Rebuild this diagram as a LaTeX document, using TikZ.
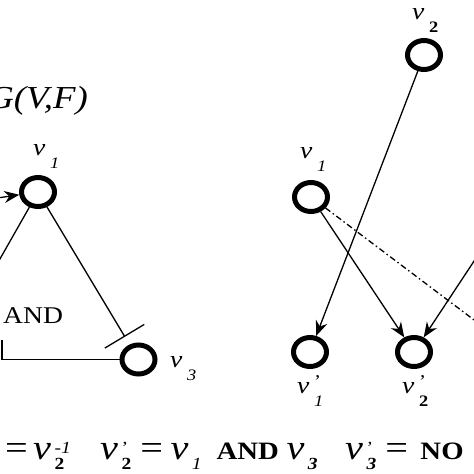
\documentclass[tikz,border=0pt]{standalone}
\usepackage{graphicx}
\usepackage{fontspec}
\setmainfont{Liberation Serif}
\usetikzlibrary{arrows.meta}
\usetikzlibrary{shapes.geometric}

% the figure is a little wider than tall, text too
\newcommand{\wide}[1]{\scalebox{1.15}[1]{#1}}
% v with a small raised and a lowered index: labels and rules
\newcommand{\gvlab}[2]{\textit{v}\hspace{4pt}\rlap{\raisebox{6pt}{\fontsize{18}{18}\selectfont #1}}\raisebox{-13pt}{\fontsize{16}{16}\selectfont #2}}
\newcommand{\gvrule}[2]{\textit{v}\hspace{3pt}\rlap{\raisebox{6pt}{\fontsize{17}{17}\selectfont #1}}\raisebox{-10pt}{\fontsize{17}{17}\selectfont #2}}

\begin{document}
\begin{tikzpicture}[x=1pt, y=-1pt,
    gene/.style={ellipse, draw=black, line width=5pt, minimum width=33pt, minimum height=29pt, inner sep=0pt},
    lab/.style={font=\fontsize{24}{26}\selectfont, inner sep=0pt, anchor=base west},
    rule/.style={font=\fontsize{35}{37}\selectfont, inner sep=0pt, anchor=base west},
    edge/.style={line width=1.3pt},
    act/.style={edge, -{Stealth[length=15pt, width=12pt]}},
    inh/.style={edge, -{Bar[width=46pt, line width=1.3pt]}, shorten >=9pt},
    dashdot/.style={edge, dash pattern=on 6pt off 3pt on 1.5pt off 3pt}]
    \useasboundingbox (0,0) rectangle (474,474);
    \clip (0,0) rectangle (474,474);

    % left graph
    \node[lab, anchor=base east, font=\fontsize{32}{34}\selectfont\itshape] (title) at (88,108) {\wide{G(V,F)}};
    \node[gene] (v1a) at (38,192) {};
    \node[gene] (v3a) at (138.5,359.5) {};
    \node[lab] (v1alab) at (33,155) {\wide{\gvlab{}{\textit{1}}}};
    \node[lab] (v3alab) at (170,367) {\wide{\gvlab{}{\textit{3}}}};
    \node[lab] (andlab) at (3,323) {\wide{AND}};
    \coordinate (inA) at (-30,202);
    \coordinate (outA) at (-12,280);
    \coordinate (barA) at (2,340);
    \draw[act] (inA) -- (v1a);
    \draw[edge] (v1a) -- (outA);
    \draw[inh] (v1a) -- (v3a);
    \draw[edge] (barA) |- (v3a);

    % right graph
    \node[gene] (v1b) at (311,197) {};
    \node[gene] (v2b) at (424,55) {};
    \node[gene] (v1p) at (310,352) {};
    \node[gene] (v2p) at (414,352) {};
    \node[lab] (v1blab) at (300,158) {\wide{\gvlab{}{\textit{1}}}};
    \node[lab] (v2blab) at (412,19) {\wide{\gvlab{}{\textbf{2}}}};
    \node[lab] (v1plab) at (297,393) {\wide{\gvlab{'}{\textit{1}}}};
    \node[lab] (v2plab) at (402,393) {\wide{\gvlab{'}{\textbf{2}}}};
    \coordinate (outB) at (490,332);
    \coordinate (inB) at (484,246);
    \draw[act] (v2b) -- (v1p);
    \draw[act] (v1b) -- (v2p);
    \draw[dashdot] (v1b) -- (outB);
    \draw[act] (inB) -- (v2p);

    % rules below
    \node[rule] (ruleA) at (5,459) {\wide{=\hspace{4.6pt}\gvrule{\textit{-1}}{\textbf{2}}}};
    \node[rule] (ruleB) at (100,459) {\wide{\gvrule{'}{\textbf{2}}\hspace{8pt}=\hspace{6.4pt}\gvrule{}{\textit{1}}\hspace{13pt}{\fontsize{25}{27}\selectfont\textbf{AND}}\hspace{6.7pt}\gvrule{}{\textbf{\textit{3}}}}};
    \node[rule] (ruleC) at (345,459) {\wide{\gvrule{'}{\textbf{\textit{3}}}\hspace{8pt}=\hspace{10.7pt}{\fontsize{25}{27}\selectfont\textbf{NO}}}};
\end{tikzpicture}
\end{document}
